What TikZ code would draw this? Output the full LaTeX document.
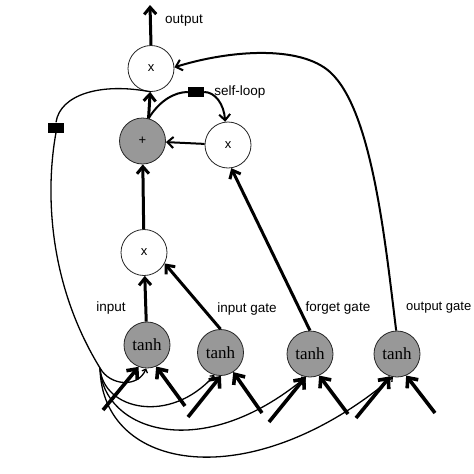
\documentclass[tikz,border=0pt]{standalone}
\usepackage{fontspec}
\setmainfont{Liberation Sans}
\newfontfamily\tanhfont{Liberation Serif}
\usetikzlibrary{arrows.meta}
\definecolor{gfill}{RGB}{152,152,152}
\begin{document}
\begin{tikzpicture}[x=1pt,y=-1pt,
 circ/.style={circle,draw=black!85,line width=0.8pt,minimum size=46pt,inner sep=0pt},
 op/.style={circ,fill=white,font=\fontsize{13}{13}\selectfont},
 gop/.style={circ,fill=gfill,font=\fontsize{13}{13}\selectfont},
 act/.style={circ,fill=gfill,font=\tanhfont\fontsize{17}{17}\selectfont},
 lab/.style={font=\fontsize{13.5}{14}\selectfont,inner sep=0pt},
 gatebox/.style={fill=black,minimum width=16pt,minimum height=10pt,inner sep=0pt},
 ext/.style={line width=3.6pt,-{Straight Barb[length=8pt,width=14pt]}},
 mainarr/.style={line width=3pt,-{Straight Barb[length=7pt,width=12pt]}},
 midarr/.style={line width=2pt,-{Straight Barb[length=6pt,width=11pt]}},
 rec/.style={line width=1.3pt},
 recarr/.style={line width=1.3pt,-{Straight Barb[length=3pt,width=6pt]}}
]
\useasboundingbox (0,0) rectangle (474,474);
% nodes
\node[op]  (ox)   at (151,68.5) {x};
\node[gop] (plus) at (142.5,141) {+};
\node[op]  (slx)  at (228,145) {x};
\node[op]  (inx)  at (144,252.5) {x};
\node[act] (t1) at (147,345) {tanh};
\node[act] (t2) at (220.5,352.5) {tanh};
\node[act] (t3) at (310,354) {tanh};
\node[act] (t4) at (397,354) {tanh};
\node[gatebox] (sqA) at (196,92) {};
\node[gatebox] (sqB) at (56,127.5) {};
\coordinate (outtop) at (150,5);
\coordinate (J) at (100,368);
% labels
\node[lab] (lout) at (184,21) {output};
\node[lab] (lself) at (240,92) {self-loop};
\node[lab] (lin) at (111,308) {input};
\node[lab] (lig) at (247,309) {input gate};
\node[lab] (lfg) at (338,308) {forget gate};
\node[lab,anchor=west,font=\fontsize{13}{14}\selectfont] (log) at (406,308) {output gate};
% main arrows
\draw[mainarr] (ox.north) -- (outtop);
\draw[mainarr] (plus.75) -- (ox.268);
\draw[midarr] (slx) -- (plus);
\draw[mainarr] (inx) -- (plus);
\draw[mainarr] (t1) -- (inx);
\draw[mainarr] (t2.90) -- (inx.-28);
\draw[mainarr] (t3.north) -- (slx.-82);
% self loop
\draw[line width=2pt] (plus.75) .. controls (160,100) and (175,92) .. (sqA.west);
\draw[midarr] (sqA.east) .. controls (215,92) and (224,104) .. (slx.97);
% output gate
\draw[midarr] (t4.92) .. controls (385,240) and (372,110) .. (330,72)
   .. controls (300,45) and (230,50) .. (ox.3);
% recurrent connection
\draw[rec] (ox.south) .. controls (100,82) and (60,95) .. (sqB.north);
\draw[rec] (sqB.south) .. controls (49,170) and (40,270) .. (J);
\draw[recarr] (J) .. controls (110,386) and (138,388) .. (t1.268);
\draw[recarr] (J) .. controls (103,410) and (170,425) .. (t2.255);
\draw[recarr] (J) .. controls (103,430) and (200,465) .. (t3.260);
\draw[recarr] (J) .. controls (102,472) and (250,497) .. (t4.260);
% external inputs
\coordinate (e1a) at (103,410); \coordinate (e1b) at (185,406);
\coordinate (e2a) at (188,417); \coordinate (e2b) at (262,413);
\coordinate (e3a) at (269,422); \coordinate (e3b) at (348,414);
\coordinate (e4a) at (356,418); \coordinate (e4b) at (435,413);
\draw[ext] (e1a) -- (t1.249);
\draw[ext] (e1b) -- (t1.293);
\draw[ext] (e2a) -- (t2.271);
\draw[ext] (e2b) -- (t2.303);
\draw[ext] (e3a) -- (t3.259);
\draw[ext] (e3b) -- (t3.293);
\draw[ext] (e4a) -- (t4.253);
\draw[ext] (e4b) -- (t4.293);
\end{tikzpicture}
\end{document}
